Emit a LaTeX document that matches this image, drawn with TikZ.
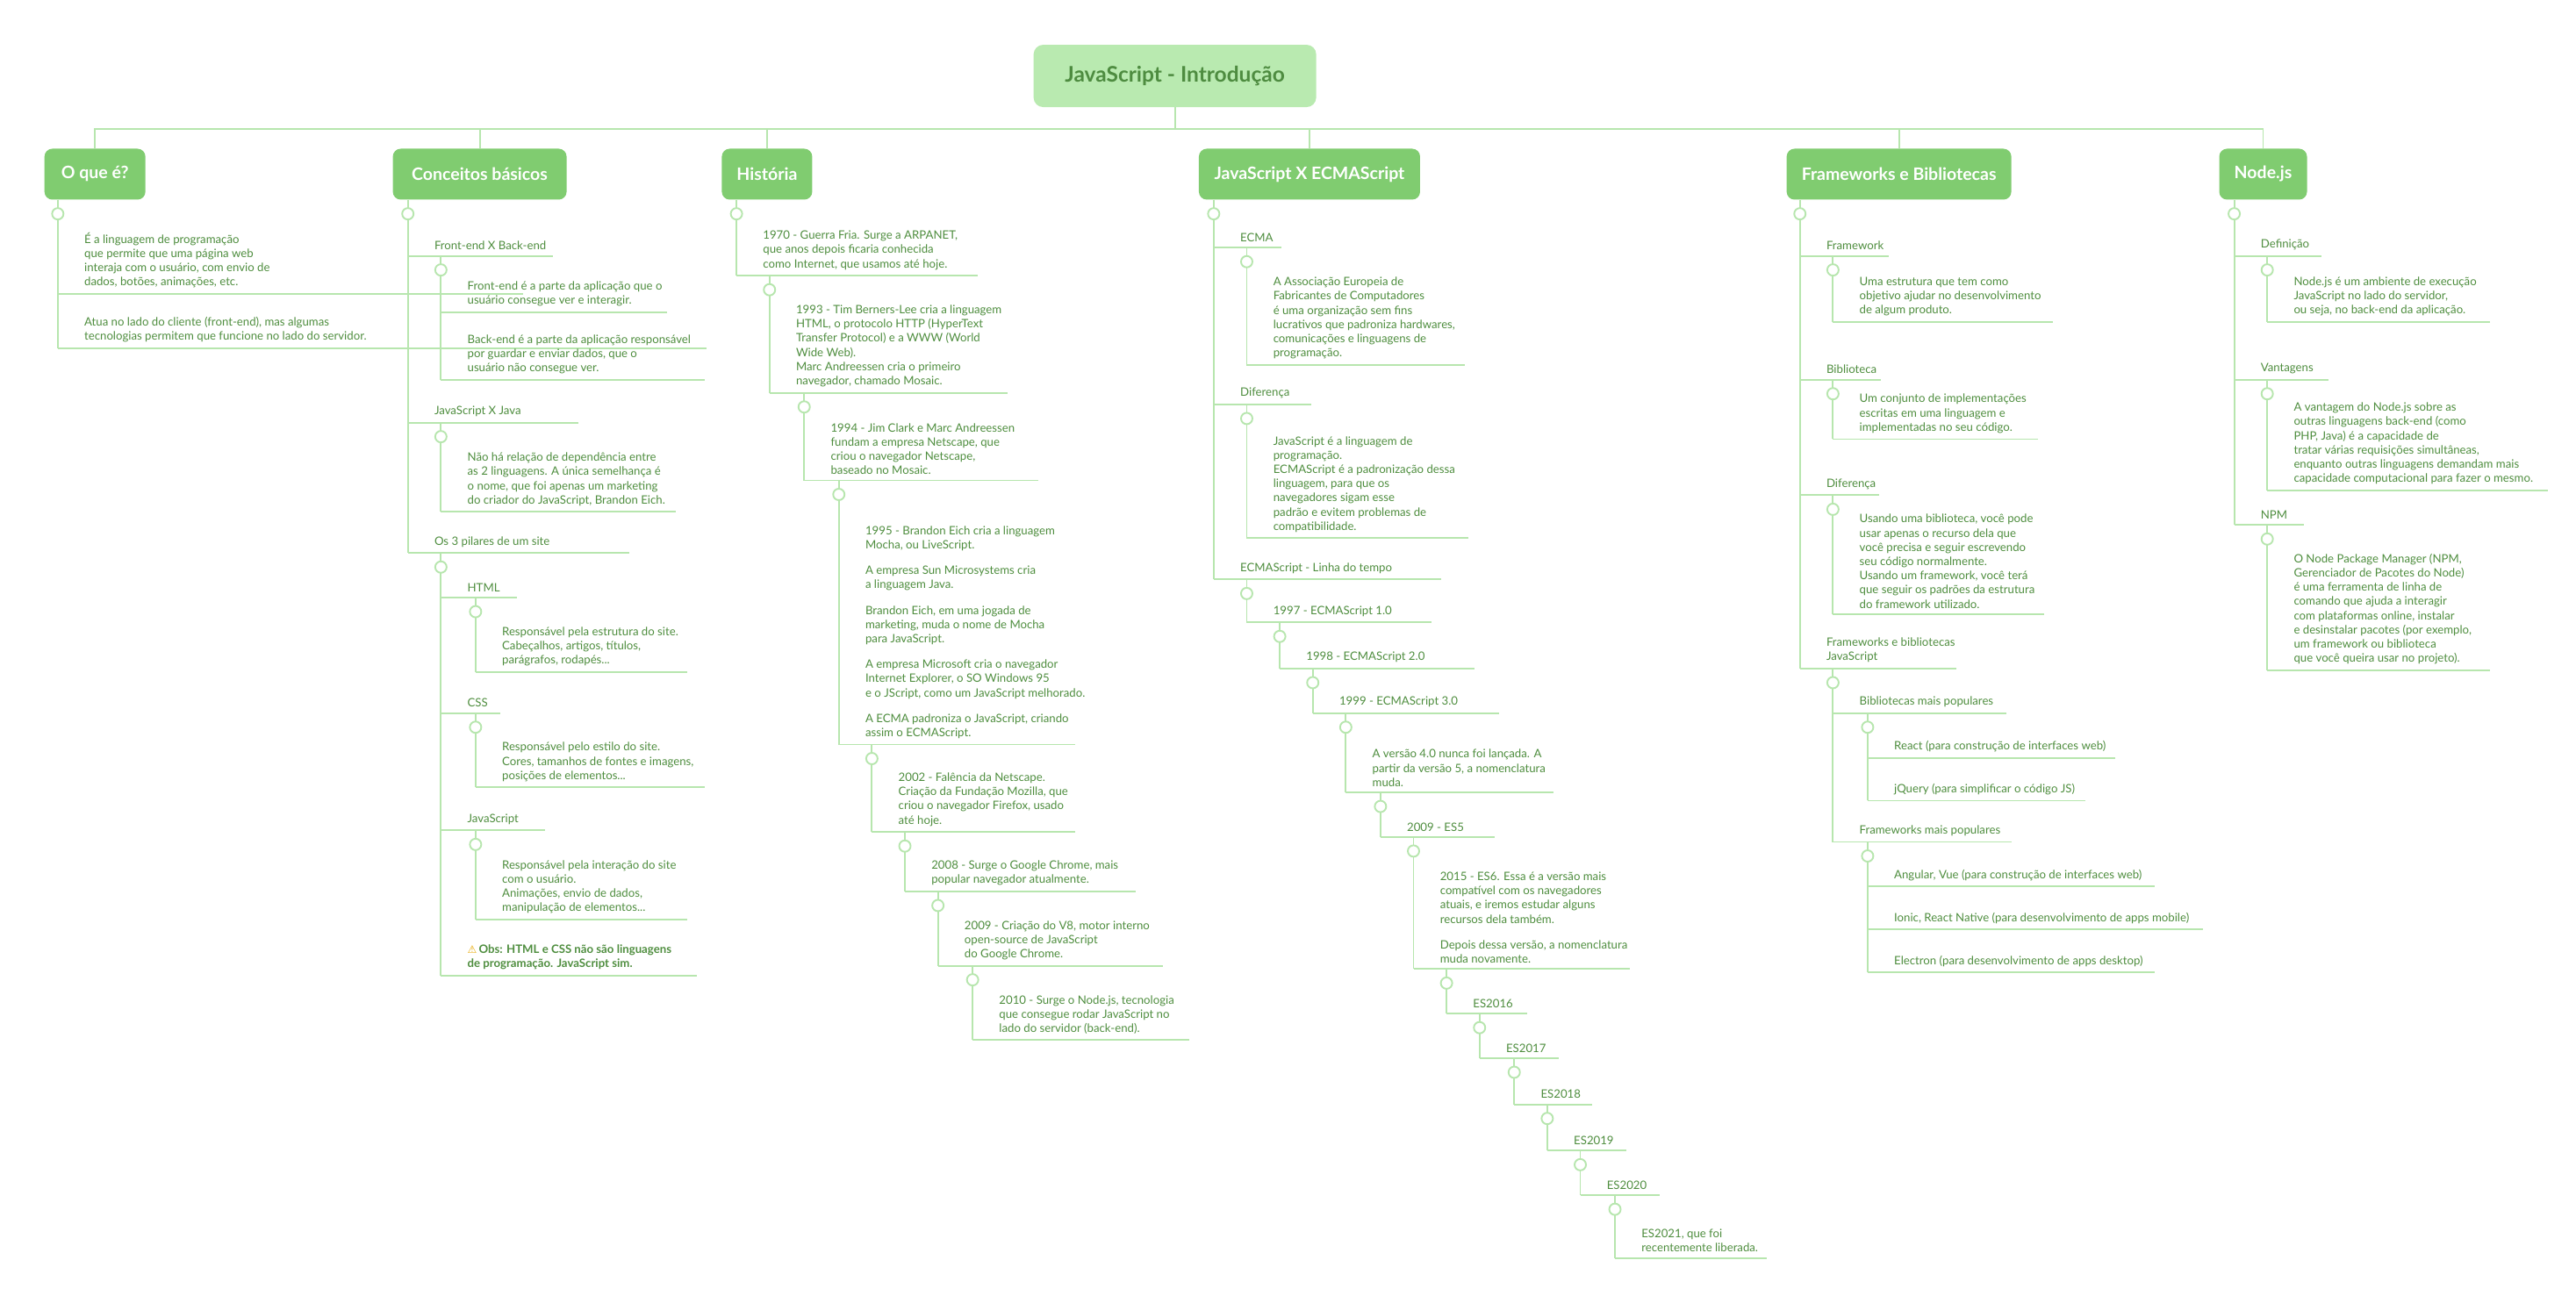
\documentclass[tikz,border=0pt]{standalone}
\usepackage{fontspec}
\setmainfont{Lato}
\newfontfamily\symf{DejaVu Sans}
\definecolor{txtg}{HTML}{4F8E3F}
\definecolor{lng}{HTML}{B7E6AE}
\definecolor{topg}{HTML}{80CC70}
\definecolor{rootg}{HTML}{B9EAB0}
\definecolor{roott}{HTML}{4E8C40}
\definecolor{warn}{HTML}{E8A800}
\tikzset{
  ln/.style={draw=lng,line width=1.9pt},
  txt/.style={inner sep=0pt,align=left,text=txtg,font=\fontsize{13.2}{16.2}\selectfont},
  dot/.style={circle,draw=lng,fill=white,line width=1.9pt,minimum size=13pt,inner sep=0pt},
  topic/.style={rounded corners=9pt,fill=topg,text=white,font=\fontsize{19.5}{22}\selectfont\bfseries,minimum height=58pt,inner sep=0pt},
}
\newcommand\itm[5]{\node[txt,anchor=south west] (#1) at ({#2+16},{#3-3.5}) {#5};
  \draw[ln] (#2,#3) -- (#4,#3);}
\newcommand\grp[3]{\draw[ln] (#1,#2) -- (#1,#3); \node[dot] at (#1,{#2+8.5}) {};}
\begin{document}
\begin{tikzpicture}[x=1.8814pt,y=-1.8814pt]
\useasboundingbox[fill=white] (0,0) rectangle (1560,785);
% root and topics
\node[rounded corners=11pt,fill=rootg,text=roott,font=\fontsize{24.5}{27}\selectfont\bfseries,minimum width=322pt,minimum height=71pt] (root) at (711.5,46) {JavaScript - Introdução};
\node[topic,minimum width=115pt] (tq) at (57.5,105.5) {O que é?};
\node[topic,minimum width=198pt] (tc) at (290.5,105.5) {Conceitos básicos};
\node[topic,minimum width=103pt] (th) at (464.5,105.5) {História};
\node[topic,minimum width=252pt] (te) at (793,105.5) {JavaScript X ECMAScript};
\node[topic,minimum width=256pt] (tf) at (1150,105.5) {Frameworks e Bibliotecas};
\node[topic,minimum width=100pt] (tn) at (1370.5,105.5) {Node.js};
\coordinate (bus) at (0,78);
\draw[ln] (tq.north) -- (tq.north |- bus) -- (tn.north |- bus) -- (tn.north);
\foreach \t in {tc,th,te,tf} {\draw[ln] (\t.north) -- (\t.north |- bus);}
\draw[ln] (root.south) -- (root.south |- bus);
% O que e
\grp{35}{121}{211}
\itm{q1}{35}{178}{317}{É a linguagem de programação\\que permite que uma página web\\interaja com o usuário, com envio de\\dados, botões, animações, etc.}
\itm{q2}{35}{211}{428}{Atua no lado do cliente (front-end), mas algumas\\tecnologias permitem que funcione no lado do servidor.}
% Conceitos
\grp{247}{121}{335}
\itm{c1}{247}{155}{335}{Front-end X Back-end}
\grp{267}{155}{230}
\itm{c11}{267}{189}{404}{Front-end é a parte da aplicação que o\\usuário consegue ver e interagir.}
\itm{c12}{267}{230}{427}{Back-end é a parte da aplicação responsável\\por guardar e enviar dados, que o\\usuário não consegue ver.}
\itm{c2}{247}{256}{350}{JavaScript X Java}
\grp{267}{256}{310}
\itm{c21}{267}{310}{409}{Não há relação de dependência entre\\as 2 linguagens. A única semelhança é\\o nome, que foi apenas um marketing\\do criador do JavaScript, Brandon Eich.}
\itm{c3}{247}{335}{381}{Os 3 pilares de um site}
\grp{267}{335}{591}
\itm{c31}{267}{362}{313}{HTML}
\grp{288}{362}{407}
\itm{c311}{288}{407}{416}{Responsável pela estrutura do site.\\Cabeçalhos, artigos, títulos,\\parágrafos, rodapés...}
\itm{c32}{267}{432}{303}{CSS}
\grp{288}{432}{477}
\itm{c321}{288}{477}{427}{Responsável pelo estilo do site.\\Cores, tamanhos de fontes e imagens,\\posições de elementos...}
\itm{c33}{267}{503}{330}{JavaScript}
\grp{288}{503}{557}
\itm{c331}{288}{557}{416}{Responsável pela interação do site\\com o usuário.\\Animações, envio de dados,\\manipulação de elementos...}
\itm{c34}{267}{591}{422}{\bfseries{\symf\color{warn}\fontsize{12}{14}\selectfont ⚠}\,Obs: HTML e CSS não são linguagens\\\bfseries de programação. JavaScript sim.}
% Historia
\grp{446}{121}{167}
\itm{h1}{446}{167}{592}{1970 - Guerra Fria. Surge a ARPANET,\\que anos depois ficaria conhecida\\como Internet, que usamos até hoje.}
\grp{466}{167}{238}
\itm{h2}{466}{238}{610}{1993 - Tim Berners-Lee cria a linguagem\\HTML, o protocolo HTTP (HyperText\\Transfer Protocol) e a WWW (World\\Wide Web).\\Marc Andreessen cria o primeiro\\navegador, chamado Mosaic.}
\grp{487}{238}{291}
\itm{h3}{487}{291}{629}{1994 - Jim Clark e Marc Andreessen\\fundam a empresa Netscape, que\\criou o navegador Netscape,\\baseado no Mosaic.}
\grp{508}{291}{451}
\itm{h4}{508}{451}{651}{1995 - Brandon Eich cria a linguagem\\Mocha, ou LiveScript.\\[13pt]A empresa Sun Microsystems cria\\a linguagem Java.\\[13pt]Brandon Eich, em uma jogada de\\marketing, muda o nome de Mocha\\para JavaScript.\\[13pt]A empresa Microsoft cria o navegador\\Internet Explorer, o SO Windows 95\\e o JScript, como um JavaScript melhorado.\\[13pt]A ECMA padroniza o JavaScript, criando\\assim o ECMAScript.}
\grp{528}{451}{504}
\itm{h5}{528}{504}{651}{2002 - Falência da Netscape.\\Criação da Fundação Mozilla, que\\criou o navegador Firefox, usado\\até hoje.}
\grp{548}{504}{540}
\itm{h6}{548}{540}{688}{2008 - Surge o Google Chrome, mais\\popular navegador atualmente.}
\grp{568}{540}{585}
\itm{h7}{568}{585}{704}{2009 - Criação do V8, motor interno\\open-source de JavaScript\\do Google Chrome.}
\grp{589}{585}{630}
\itm{h8}{589}{630}{720}{2010 - Surge o Node.js, tecnologia\\que consegue rodar JavaScript no\\lado do servidor (back-end).}
% ECMA
\grp{735}{121}{351}
\itm{e1}{735}{150}{776}{ECMA}
\grp{755}{150}{221}
\itm{e11}{755}{221}{887}{A Associação Europeia de\\Fabricantes de Computadores\\é uma organização sem fins\\lucrativos que padroniza hardwares,\\comunicações e linguagens de\\programação.}
\itm{e2}{735}{245}{794}{Diferença}
\grp{755}{245}{326}
\itm{e21}{755}{326}{889}{JavaScript é a linguagem de\\programação.\\ECMAScript é a padronização dessa\\linguagem, para que os\\navegadores sigam esse\\padrão e evitem problemas de\\compatibilidade.}
\itm{e3}{735}{351}{873}{ECMAScript - Linha do tempo}
\grp{755}{351}{377}
\itm{t1}{755}{377}{867}{1997 - ECMAScript 1.0}
\grp{775}{377}{405}
\itm{t2}{775}{405}{893}{1998 - ECMAScript 2.0}
\grp{795}{405}{432}
\itm{t3}{795}{432}{908}{1999 - ECMAScript 3.0}
\grp{815}{432}{480}
\itm{t4}{815}{480}{941}{A versão 4.0 nunca foi lançada. A\\partir da versão 5, a nomenclatura\\muda.}
\grp{836}{480}{507}
\itm{t5}{836}{507}{905}{2009 - ES5}
\grp{856}{507}{587}
\itm{t6}{856}{587}{987}{2015 - ES6. Essa é a versão mais\\compatível com os navegadores\\atuais, e iremos estudar alguns\\recursos dela também.\\[13pt]Depois dessa versão, a nomenclatura\\muda novamente.}
\grp{876}{587}{614}
\itm{t7}{876}{614}{925}{ES2016}
\grp{896}{614}{641}
\itm{t8}{896}{641}{944}{ES2017}
\grp{917}{641}{669}
\itm{t9}{917}{669}{964}{ES2018}
\grp{937}{669}{697}
\itm{t10}{937}{697}{985}{ES2019}
\grp{957}{697}{724}
\itm{t11}{957}{724}{1005}{ES2020}
\grp{978}{724}{762}
\itm{t12}{978}{762}{1070}{ES2021, que foi\\recentemente liberada.}
% Frameworks
\grp{1090}{121}{405}
\itm{f1}{1090}{155}{1144}{Framework}
\grp{1110}{155}{195}
\itm{f11}{1110}{195}{1243}{Uma estrutura que tem como\\objetivo ajudar no desenvolvimento\\de algum produto.}
\itm{f2}{1090}{230}{1139}{Biblioteca}
\grp{1110}{230}{266}
\itm{f21}{1110}{266}{1234}{Um conjunto de implementações\\escritas em uma linguagem e\\implementadas no seu código.}
\itm{f3}{1090}{300}{1138}{Diferença}
\grp{1110}{300}{372}
\itm{f31}{1110}{372}{1238}{Usando uma biblioteca, você pode\\usar apenas o recurso dela que\\você precisa e seguir escrevendo\\seu código normalmente.\\Usando um framework, você terá\\que seguir os padrões da estrutura\\do framework utilizado.}
\itm{f4}{1090}{405}{1185}{Frameworks e bibliotecas\\JavaScript}
\grp{1110}{405}{510}
\itm{f41}{1110}{432}{1215}{Bibliotecas mais populares}
\grp{1131}{432}{485}
\itm{f411}{1131}{459}{1281}{React (para construção de interfaces web)}
\itm{f412}{1131}{485}{1263}{jQuery (para simplificar o código JS)}
\itm{f42}{1110}{510}{1218}{Frameworks mais populares}
\grp{1131}{510}{589}
\itm{f421}{1131}{537}{1305}{Angular, Vue (para construção de interfaces web)}
\itm{f422}{1131}{563}{1334}{Ionic, React Native (para desenvolvimento de apps mobile)}
\itm{f423}{1131}{589}{1305}{Electron (para desenvolvimento de apps desktop)}
% Node
\grp{1353}{121}{318}
\itm{n1}{1353}{155}{1406}{Definição}
\grp{1373}{155}{195}
\itm{n11}{1373}{195}{1508}{Node.js é um ambiente de execução\\JavaScript no lado do servidor,\\ou seja, no back-end da aplicação.}
\itm{n2}{1353}{230}{1410}{Vantagens}
\grp{1373}{230}{297}
\itm{n21}{1373}{297}{1543}{A vantagem do Node.js sobre as\\outras linguagens back-end (como\\PHP, Java) é a capacidade de\\tratar várias requisições simultâneas,\\enquanto outras linguagens demandam mais\\capacidade computacional para fazer o mesmo.}
\itm{n3}{1353}{318}{1395}{NPM}
\grp{1373}{318}{406}
\itm{n31}{1373}{406}{1508}{O Node Package Manager (NPM,\\Gerenciador de Pacotes do Node)\\é uma ferramenta de linha de\\comando que ajuda a interagir\\com plataformas online, instalar\\e desinstalar pacotes (por exemplo,\\um framework ou biblioteca\\que você queira usar no projeto).}
\end{tikzpicture}
\end{document}
